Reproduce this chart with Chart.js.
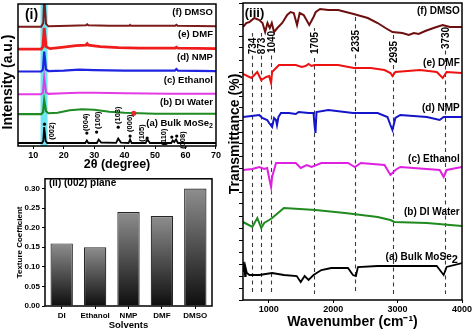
<!DOCTYPE html>
<html>
<head>
<meta charset="utf-8">
<script src="https://cdn.jsdelivr.net/npm/chart.js@4.4.1/dist/chart.umd.min.js"></script>
<style>
  html, body { margin: 0; padding: 0; background: #fff; }
  body { position: relative; width: 474px; height: 331px; overflow: hidden; }
  canvas { position: absolute; }
</style>
</head>
<body>
<canvas id="xrdChart" width="222" height="172" style="left:0;top:0"></canvas>
<canvas id="tcChart" width="222" height="159" style="left:0;top:172px"></canvas>
<canvas id="ftirChart" width="260" height="331" style="left:222px;top:0"></canvas>
<script>
// ---------- (i) XRD patterns, 2theta vs stacked intensity ----------
const xrdTicks = [10, 20, 30, 40, 50, 60, 70];
const xrdBulk = [[5,3],[12.9,3],[13.3,5],[13.6,19],[13.8,19],[14.1,5],[14.6,3],[27.1,3],[27.6,5.5],[28.1,3],[30.9,3],[31.5,6.5],[32.3,3.5],[37.2,3.2],[37.9,7.5],[38.8,3.5],[41.3,3],[41.8,6.5],[42.3,3],[46.9,3],[47.5,6.5],[48.3,3],[55.3,3],[55.8,5.5],[56.3,4],[56.9,6.5],[57.5,3],[70,3]];
const xrdWater = [[5,32],[12.6,32],[13.2,34],[13.6,46],[13.8,46],[14.2,35],[15,33],[18,33.5],[22,36],[26,37],[30,36.5],[35,34.5],[40,33.5],[45,33],[50,32.5],[60,32.5],[70,32.5]];
const xrdEthanol = [[5,52],[12.6,52],[13.2,54],[13.6,69],[13.8,69],[14.2,54],[15,52.5],[20,53],[25,53.5],[30,53.5],[40,53],[55,52.5],[70,52.5]];
const xrdNMP = [[5,75],[12.6,75],[13.2,77],[13.6,95],[13.8,95],[14.2,77],[15,75.5],[20,76],[25,77],[30,76.5],[40,76],[56.5,76],[57,77.5],[57.5,76],[70,75.5]];
const xrdDMF = [[5,97.5],[12.6,97.5],[13.2,100],[13.6,119],[13.8,119],[14.2,100],[15.5,98],[20,99.5],[24,101],[27.3,101.5],[27.7,103],[28.1,101.5],[32,100],[38,99],[45,98.5],[56.6,98.5],[57,99.5],[57.4,98.5],[70,98]];
const xrdDMSO = [[5,120],[12.6,120],[13.3,124],[13.6,150],[13.8,150],[14.2,123],[15,120.5],[22,121],[27.3,121.5],[27.7,122.5],[28.1,121.5],[35,121],[41.5,121],[41.8,122],[42.1,121],[56.6,121],[57,122],[57.4,121],[70,120.5]];
const xrdPeakMarks = [[13.7,22],[27.6,13],[30.8,14],[37.9,19],[41.8,10],[47.4,8],[55.5,9],[57.1,10]];
const xrdImpurity = [[43,33]];
const hklNames = ['(002)','(004)','(100)','(103)','(006)','(105)','(110)','(008)'];
const hklAt = [[16.2,15],[27.3,24],[31.4,26],[37.7,31],[41.8,23],[45.8,13],[52.9,9],[59.1,6]];
const band002 = [12.4, 14.7];

// ---------- (ii) texture coefficient of the (002) plane ----------
const solvents = ['DI', 'Ethanol', 'NMP', 'DMF', 'DMSO'];
const tcValues = [0.16, 0.15, 0.24, 0.23, 0.30];
const tcTicks = [0, 0.05, 0.10, 0.15, 0.20, 0.25, 0.30];

// ---------- (iii) FTIR spectra, wavenumber vs stacked transmittance ----------
const ftirTicks = [1000, 2000, 3000, 4000];
const ftirDMSO = [[600,273],[650,277],[700,278],[776,282],[853,280],[903,277],[944,268],[980,277],[1016,272],[1047,277],[1082,268],[1133,272],[1209,277],[1286,285],[1338,288],[1388,287],[1439,275],[1480,287],[1542,285],[1629,275],[1695,283],[1730,288],[1797,291],[1924,290],[2077,290],[2318,286],[2537,282],[2690,277],[2812,272],[2920,268],[3073,267],[3175,265],[3252,267],[3328,266],[3429,269],[3558,272],[3700,275],[3812,273],[4000,273]];
const ftirDMF = [[600,226],[730,222],[822,228],[883,220],[960,223],[1006,224],[1036,217],[1052,228],[1159,235],[1419,235],[1511,233],[1572,234],[1618,236],[1664,234],[1710,235],[2077,235],[2322,232],[2583,232],[2797,230],[2889,227],[2920,224],[2966,228],[3348,230],[3608,228],[3700,222],[3761,228],[4000,227]];
const ftirNMP = [[600,183],[730,184],[853,185],[899,182],[975,180],[1006,177],[1052,173],[1082,182],[1113,180],[1128,175],[1150,183],[1189,187],[1312,187],[1419,186],[1465,188],[1618,187],[1695,187],[1710,175],[1725,167],[1741,188],[1924,190],[2307,187],[2690,187],[2843,183],[2889,175],[2920,170],[2966,182],[3042,185],[3455,183],[3654,180],[3715,183],[4000,183]];
const ftirEthanol = [[600,130],[745,131],[853,133],[929,131],[975,132],[1006,122],[1036,113],[1052,123],[1113,137],[1419,137],[1496,132],[1588,135],[1664,133],[1817,137],[2230,137],[2337,133],[2429,137],[2797,135],[2889,125],[2966,130],[3042,133],[3654,130],[3715,123],[3761,130],[4000,133]];
const ftirWater = [[600,78],[745,73],[822,82],[883,72],[929,77],[1006,80],[1052,82],[1235,92],[1725,90],[2184,87],[2690,83],[2889,80],[2950,78],[3455,77],[4000,74]];
const ftirBulk = [[600,38],[612,28],[622,36],[632,24],[642,32],[660,27],[700,25],[853,25],[1052,27],[1235,25],[1434,24],[1496,18],[1557,24],[1618,20],[1695,25],[1817,30],[1970,32],[2230,32],[2307,25],[2353,24],[2384,33],[2690,34],[3608,34],[3715,25],[3761,33],[4000,37]];
const bandPeaks = [734, 873, 1040, 1705, 2335, 2935, 3730];

const FONT = "'Liberation Sans', Arial, sans-serif";
Chart.defaults.font.family = FONT;
Chart.defaults.color = '#000';

const pts = arr => arr.map(p => ({ x: p[0], y: p[1] }));
const bold = size => ({ size: size, weight: 'bold' });

// box around the plot area
const framePlugin = {
  id: 'frame',
  afterDraw(chart) {
    const a = chart.chartArea, ctx = chart.ctx;
    ctx.save();
    ctx.strokeStyle = '#000';
    ctx.lineWidth = 1.5;
    ctx.strokeRect(a.left, a.top, a.right - a.left, a.bottom - a.top);
    ctx.restore();
  }
};

// free text: either at data coords (at) or canvas pixels (px)
function textPlugin(items) {
  return {
    id: 'notes',
    afterDraw(chart) {
      const ctx = chart.ctx;
      items.forEach(it => {
        let x, y;
        if (it.px) { x = it.px[0]; y = it.px[1]; }
        else { x = chart.scales.x.getPixelForValue(it.at[0]); y = chart.scales.y.getPixelForValue(it.at[1]); }
        ctx.save();
        ctx.translate(x, y);
        if (it.rotate) ctx.rotate(-Math.PI / 2);
        ctx.font = it.font;
        ctx.textBaseline = 'middle';
        ctx.textAlign = 'left';
        const w = ctx.measureText(it.text).width;
        let sw = 0;
        if (it.sub) { ctx.font = it.subFont; sw = ctx.measureText(it.sub).width; ctx.font = it.font; }
        const x0 = it.align === 'right' ? -(w + sw) : it.align === 'left' ? 0 : -(w + sw) / 2;
        ctx.fillStyle = it.color || '#000';
        ctx.fillText(it.text, x0, 0);
        if (it.sub) { ctx.font = it.subFont; ctx.fillText(it.sub, x0 + w, it.subDy); }
        ctx.restore();
      });
    }
  };
}

// highlighted (002) band behind the XRD traces
const bandPlugin = {
  id: 'band',
  beforeDatasetsDraw(chart) {
    const a = chart.chartArea, xs = chart.scales.x, ctx = chart.ctx;
    const l = xs.getPixelForValue(band002[0]), r = xs.getPixelForValue(band002[1]);
    ctx.save();
    ctx.fillStyle = '#6fe6f4';
    ctx.fillRect(l, a.top, r - l, a.bottom - a.top);
    ctx.restore();
  }
};

// dashed guides for the FTIR band positions
const guideTop = [267, 267, 267, 272, 283, 265, 272];
const guideLabelAt = [254, 254, 258, 257, 259, 248, 262];
const guidePlugin = {
  id: 'guides',
  beforeDatasetsDraw(chart) {
    const xs = chart.scales.x, ys = chart.scales.y, ctx = chart.ctx;
    ctx.save();
    bandPeaks.forEach((wn, i) => {
      const x = Math.round(xs.getPixelForValue(wn)) + 0.5;
      ctx.strokeStyle = '#3a3a3a';
      ctx.lineWidth = 1.1;
      ctx.setLineDash([4, 3.5]);
      ctx.beginPath();
      ctx.moveTo(x, ys.getPixelForValue(guideTop[i]));
      ctx.lineTo(x, ys.getPixelForValue(6));
      ctx.stroke();
      ctx.setLineDash([]);
      const y = ys.getPixelForValue(guideLabelAt[i]);
      const txt = String(wn);
      ctx.save();
      ctx.translate(x, y);
      ctx.rotate(-Math.PI / 2);
      ctx.font = 'bold 10px ' + FONT;
      const w = ctx.measureText(txt).width;
      ctx.fillStyle = '#fff';
      ctx.fillRect(-w / 2 - 1, -5, w + 2, 10);
      ctx.fillStyle = '#000';
      ctx.textAlign = 'center';
      ctx.textBaseline = 'middle';
      ctx.fillText(txt, 0, 0.5);
      ctx.restore();
    });
    ctx.restore();
  }
};

function lineSet(data, color, width) {
  return { data: pts(data), borderColor: color, borderWidth: width, pointRadius: 0, tension: 0, fill: false };
}

// ---------- chart (i) ----------
const xrdNotes = [
  { text: '(i)', px: [31.5, 15], font: 'bold 14px ' + FONT },
  { text: 'Intensity (a.u.)', px: [8, 82], rotate: true, font: 'bold 14px ' + FONT },
  { text: '(f) DMSO', at: [69, 135], align: 'right', font: 'bold 9.5px ' + FONT },
  { text: '(e) DMF', at: [69, 112], align: 'right', font: 'bold 9.5px ' + FONT },
  { text: '(d) NMP', at: [69, 89], align: 'right', font: 'bold 9.5px ' + FONT },
  { text: '(c) Ethanol', at: [69, 66], align: 'right', font: 'bold 9.5px ' + FONT },
  { text: '(b) DI Water', at: [69, 44], align: 'right', font: 'bold 9.5px ' + FONT },
  { text: '(a) Bulk MoSe', at: [69, 23], align: 'right', font: 'bold 9.5px ' + FONT, sub: '2', subFont: 'bold 7px ' + FONT, subDy: 3 }
].concat(hklNames.map((n, i) => ({ text: n, at: hklAt[i], rotate: true, font: 'bold 7.5px ' + FONT })));

new Chart(document.getElementById('xrdChart'), {
  type: 'line',
  data: {
    datasets: [
      { data: pts(xrdPeakMarks), showLine: false, pointRadius: 1.6, pointBackgroundColor: '#000', pointBorderWidth: 0 },
      { data: pts(xrdImpurity), showLine: false, pointRadius: 2.6, pointBackgroundColor: '#e8282a', pointBorderWidth: 0 },
      lineSet(xrdBulk, '#000000', 1.8),
      lineSet(xrdWater, '#1e8c22', 2.2),
      lineSet(xrdEthanol, '#e43ce4', 2),
      lineSet(xrdNMP, '#2024e0', 2.2),
      lineSet(xrdDMF, '#f01c1c', 2.8),
      lineSet(xrdDMSO, '#7d1a1a', 2)
    ]
  },
  options: {
    responsive: false,
    animation: false,
    layout: { padding: { top: 3, right: 6, left: 0, bottom: 0 } },
    plugins: { legend: { display: false }, tooltip: { enabled: false } },
    scales: {
      x: {
        type: 'linear', min: 5, max: 70,
        afterBuildTicks: s => { s.ticks = xrdTicks.map(v => ({ value: v })); },
        afterFit: s => { s.height = 26; },
        ticks: { font: bold(9), padding: 1, maxRotation: 0, color: '#000', callback: v => String(v) },
        grid: { drawOnChartArea: false, tickLength: 3, color: '#000' },
        border: { display: false },
        title: { display: true, text: '2θ (degree)', font: bold(12.5), padding: 0, color: '#000' }
      },
      y: {
        min: 0, max: 143,
        afterFit: s => { s.width = 18; },
        ticks: { display: false },
        grid: { display: false },
        border: { display: false }
      }
    }
  },
  plugins: [bandPlugin, framePlugin, textPlugin(xrdNotes)]
});

// ---------- chart (ii) ----------
function barFill(c) {
  const chart = c.chart;
  if (!chart.chartArea || !c.parsed) return '#555';
  const ys = chart.scales.y;
  const top = ys.getPixelForValue(c.parsed.y), base = ys.getPixelForValue(0);
  const g = chart.ctx.createLinearGradient(0, top, 0, base);
  g.addColorStop(0, '#8e8e8e');
  g.addColorStop(1, '#0e0e0e');
  return g;
}

new Chart(document.getElementById('tcChart'), {
  type: 'bar',
  data: {
    labels: solvents,
    datasets: [{ data: tcValues, backgroundColor: barFill, borderColor: '#262626', borderWidth: 1.2, barPercentage: 0.67, categoryPercentage: 1 }]
  },
  options: {
    responsive: false,
    animation: false,
    layout: { padding: { top: 1, right: 10, left: 0, bottom: 0 } },
    plugins: { legend: { display: false }, tooltip: { enabled: false } },
    scales: {
      x: {
        afterFit: s => { s.height = 25; },
        ticks: { font: bold(8), padding: 2, color: '#000', maxRotation: 0, minRotation: 0, autoSkip: false },
        grid: { offset: false, drawOnChartArea: false, tickLength: 3, color: '#000' },
        border: { display: false },
        title: { display: true, text: 'Solvents', font: bold(9.5), padding: 0, color: '#000' }
      },
      y: {
        min: 0, max: 0.325,
        afterBuildTicks: s => { s.ticks = tcTicks.map(v => ({ value: v })); },
        afterFit: s => { s.width = 45; },
        ticks: { font: bold(8), padding: 2, color: '#000', callback: v => v.toFixed(2) },
        grid: { drawOnChartArea: false, tickLength: 3, color: '#000' },
        border: { display: false },
        title: { display: true, text: 'Texture Coefficient', font: bold(8), padding: { top: 15, bottom: 0 }, color: '#000' }
      }
    }
  },
  plugins: [framePlugin, textPlugin([{ text: '(ii) (002) plane', px: [49, 11], align: 'left', font: 'bold 10px ' + FONT }])]
});

// ---------- chart (iii) ----------
const ftirNotes = [
  { text: '(iii)', px: [32.5, 13], font: 'bold 13px ' + FONT },
  { text: 'Transmittance (%)', px: [13, 134], rotate: true, font: 'bold 14px ' + FONT },
  { text: '(f) DMSO', at: [3965, 289], align: 'right', font: 'bold 10px ' + FONT },
  { text: '(e) DMF', at: [3965, 237], align: 'right', font: 'bold 10px ' + FONT },
  { text: '(d) NMP', at: [3965, 192], align: 'right', font: 'bold 10px ' + FONT },
  { text: '(c) Ethanol', at: [3965, 141], align: 'right', font: 'bold 10px ' + FONT },
  { text: '(b) DI Water', at: [3965, 88], align: 'right', font: 'bold 10px ' + FONT },
  { text: '(a) Bulk MoSe', at: [3935, 43], align: 'right', font: 'bold 10px ' + FONT, sub: '2', subFont: 'bold 11px ' + FONT, subDy: 3 }
];

new Chart(document.getElementById('ftirChart'), {
  type: 'line',
  data: {
    datasets: [
      lineSet(ftirBulk, '#000000', 1.8),
      lineSet(ftirWater, '#1f8a1f', 2),
      lineSet(ftirEthanol, '#e020e0', 2),
      lineSet(ftirNMP, '#1414c8', 2),
      lineSet(ftirDMF, '#ee1111', 2),
      lineSet(ftirDMSO, '#6e0f0f', 2)
    ]
  },
  options: {
    responsive: false,
    animation: false,
    layout: { padding: { top: 3, right: 20, left: 0, bottom: 0 } },
    plugins: { legend: { display: false }, tooltip: { enabled: false } },
    scales: {
      x: {
        type: 'linear', min: 600, max: 4000,
        afterBuildTicks: s => { s.ticks = ftirTicks.map(v => ({ value: v })); },
        afterFit: s => { s.height = 31; },
        ticks: { font: bold(9), padding: 1, maxRotation: 0, color: '#000', callback: v => String(v) },
        grid: { drawOnChartArea: false, tickLength: 3, color: '#000' },
        border: { display: false },
        title: { display: true, text: 'Wavenumber (cm⁻¹)', font: bold(14), padding: 0, color: '#000' }
      },
      y: {
        min: 0, max: 297,
        afterFit: s => { s.width = 21; },
        ticks: { display: false, stepSize: 12 },
        grid: { drawOnChartArea: false, tickLength: 4, color: '#000' },
        border: { display: false }
      }
    }
  },
  plugins: [guidePlugin, framePlugin, textPlugin(ftirNotes)]
});
</script>
</body>
</html>
